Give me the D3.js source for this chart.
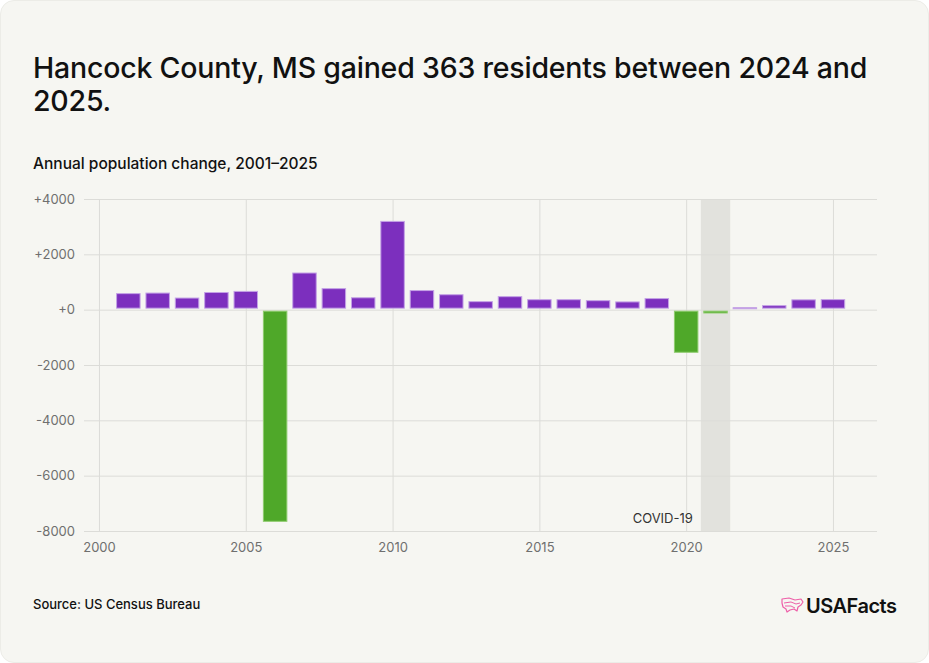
<!DOCTYPE html>
<html>
<head>
<meta charset="utf-8">
<script src="https://cdn.jsdelivr.net/npm/d3@7"></script>
<style>
  html, body { margin: 0; padding: 0; background: #ffffff; }
  body { width: 929px; height: 663px; overflow: hidden; }
  .card {
    position: absolute; left: 0; top: 0; width: 927px; height: 661px;
    background: #f6f6f2; border: 1px solid #ecece7; border-radius: 14px;
  }
  svg { position: absolute; left: 0; top: 0; font-family: Inter, 'Noto Sans', sans-serif; }
</style>
</head>
<body>
<div class="card"></div>
<div class="canvas"></div>
<script>
const years = [2001, 2002, 2003, 2004, 2005, 2006, 2007, 2008, 2009, 2010,
  2011, 2012, 2013, 2014, 2015, 2016, 2017, 2018, 2019, 2020,
  2021, 2022, 2023, 2024, 2025];
const changes = [580, 600, 420, 620, 660, -7650, 1325, 760, 430, 3190,
  690, 540, 290, 470, 360, 360, 325, 280, 400, -1540,
  -120, 70, 145, 355, 363];
const yTicks = [4000, 2000, 0, -2000, -4000, -6000, -8000];
const xTicks = [2000, 2005, 2010, 2015, 2020, 2025];
const covidSpan = [2020.5, 2021.5];

const width = 929;
const height = 663;
const margin = { top: 199, right: 52, bottom: 132, left: 84 };
const graphWidth = width - margin.left - margin.right;
const graphHeight = height - margin.top - margin.bottom;

const svg = d3
  .select('.canvas')
  .append('svg')
  .attr('width', width)
  .attr('height', height);

// titles
svg.append('text')
  .attr('x', 33).attr('y', 78)
  .attr('font-size', 28.5).attr('font-weight', 500)
  .attr('letter-spacing', -0.2)
  .attr('fill', '#111')
  .text('Hancock County, MS gained 363 residents between 2024 and');
svg.append('text')
  .attr('x', 33).attr('y', 111)
  .attr('font-size', 28.5).attr('font-weight', 500)
  .attr('letter-spacing', -0.2)
  .attr('fill', '#111')
  .text('2025.');
svg.append('text')
  .attr('x', 33).attr('y', 169)
  .attr('font-size', 15.5).attr('font-weight', 500)
  .attr('letter-spacing', 0)
  .attr('fill', '#111')
  .text('Annual population change, 2001–2025');

const graph = svg
  .append('g')
  .attr('transform', `translate(${margin.left}, ${margin.top})`);

// scales
const x = d3.scaleLinear().domain([1999.49, 2026.5]).range([0, graphWidth]);
const y = d3.scaleLinear().domain([4000, -8000]).range([0, graphHeight]);
const barWidth = (x(2001) - x(2000)) * 0.8;

// covid shading
graph.append('rect')
  .attr('x', x(covidSpan[0]))
  .attr('width', x(covidSpan[1]) - x(covidSpan[0]))
  .attr('y', 0)
  .attr('height', graphHeight)
  .attr('fill', '#e2e2dd');

// grid
const yAxis = d3.axisLeft(y)
  .tickValues(yTicks)
  .tickSize(-graphWidth)
  .tickPadding(9)
  .tickFormat(d => (d >= 0 ? '+' : '') + d);
const yAxisGroup = graph.append('g').attr('class', 'y-axis').call(yAxis);
yAxisGroup.select('.domain').remove();
yAxisGroup.selectAll('line').attr('stroke', '#dcdcd8').attr('stroke-width', 1);
yAxisGroup.selectAll('text')
  .attr('fill', '#6f6f6f').attr('font-size', 13)
  .attr('font-family', 'Inter, sans-serif');

const xAxis = d3.axisBottom(x)
  .tickValues(xTicks)
  .tickSize(graphHeight)
  .tickPadding(12)
  .tickFormat(d3.format('d'));
const xAxisGroup = graph.append('g').attr('class', 'x-axis').call(xAxis);
xAxisGroup.select('.domain').remove();
xAxisGroup.selectAll('line').attr('stroke', '#dcdcd8').attr('stroke-width', 1);
xAxisGroup.selectAll('text')
  .attr('fill', '#6f6f6f').attr('font-size', 13)
  .attr('font-family', 'Inter, sans-serif');

// bars
const data = years.map((yr, i) => ({ year: yr, value: changes[i] }));
graph.selectAll('rect.bar')
  .data(data)
  .enter()
  .append('rect')
  .attr('class', 'bar')
  .attr('x', d => x(d.year) - barWidth / 2)
  .attr('width', barWidth)
  .attr('y', d => y(Math.max(0, d.value)) + (d.value >= 0 ? 0 : 1.5))
  .attr('height', d => Math.max(1, Math.abs(y(d.value) - y(0)) - 1.5))
  .attr('fill', d => (d.value >= 0 ? '#7c2fbe' : '#4fa829'))
  .attr('stroke', d => (d.value >= 0 ? '#c4a2e6' : '#8fcc6e'))
  .attr('stroke-width', 1);

// covid label
graph.append('text')
  .attr('x', x(covidSpan[0]) - 8)
  .attr('y', graphHeight - 8)
  .attr('text-anchor', 'end')
  .attr('font-size', 13)
  .attr('fill', '#333')
  .text('COVID-19');

// footer
svg.append('text')
  .attr('x', 33).attr('y', 609)
  .attr('font-size', 13).attr('font-weight', 500)
  .attr('fill', '#111')
  .text('Source: US Census Bureau');

const logo = svg.append('g').attr('transform', 'translate(781, 597)');
logo.append('path')
  .attr('d', 'M1,2 L8,1 L14,3 L20,2 L22,5 L20,8 L17,10 L16,14 L13,12 L9,13 L6,15 L5,12 L2,10 L1,6 Z')
  .attr('fill', 'none')
  .attr('stroke', '#ee5fa8')
  .attr('stroke-width', 1.2)
  .attr('stroke-linejoin', 'round');
logo.append('path')
  .attr('d', 'M3,6 L10,5 L15,7 L19,6 M4,9 L10,9 L14,11')
  .attr('fill', 'none')
  .attr('stroke', '#ee5fa8')
  .attr('stroke-width', 1);
svg.append('text')
  .attr('x', 806).attr('y', 613)
  .attr('font-size', 20).attr('font-weight', 600)
  .attr('letter-spacing', -0.5)
  .attr('fill', '#111')
  .text('USAFacts');
</script>
</body>
</html>
